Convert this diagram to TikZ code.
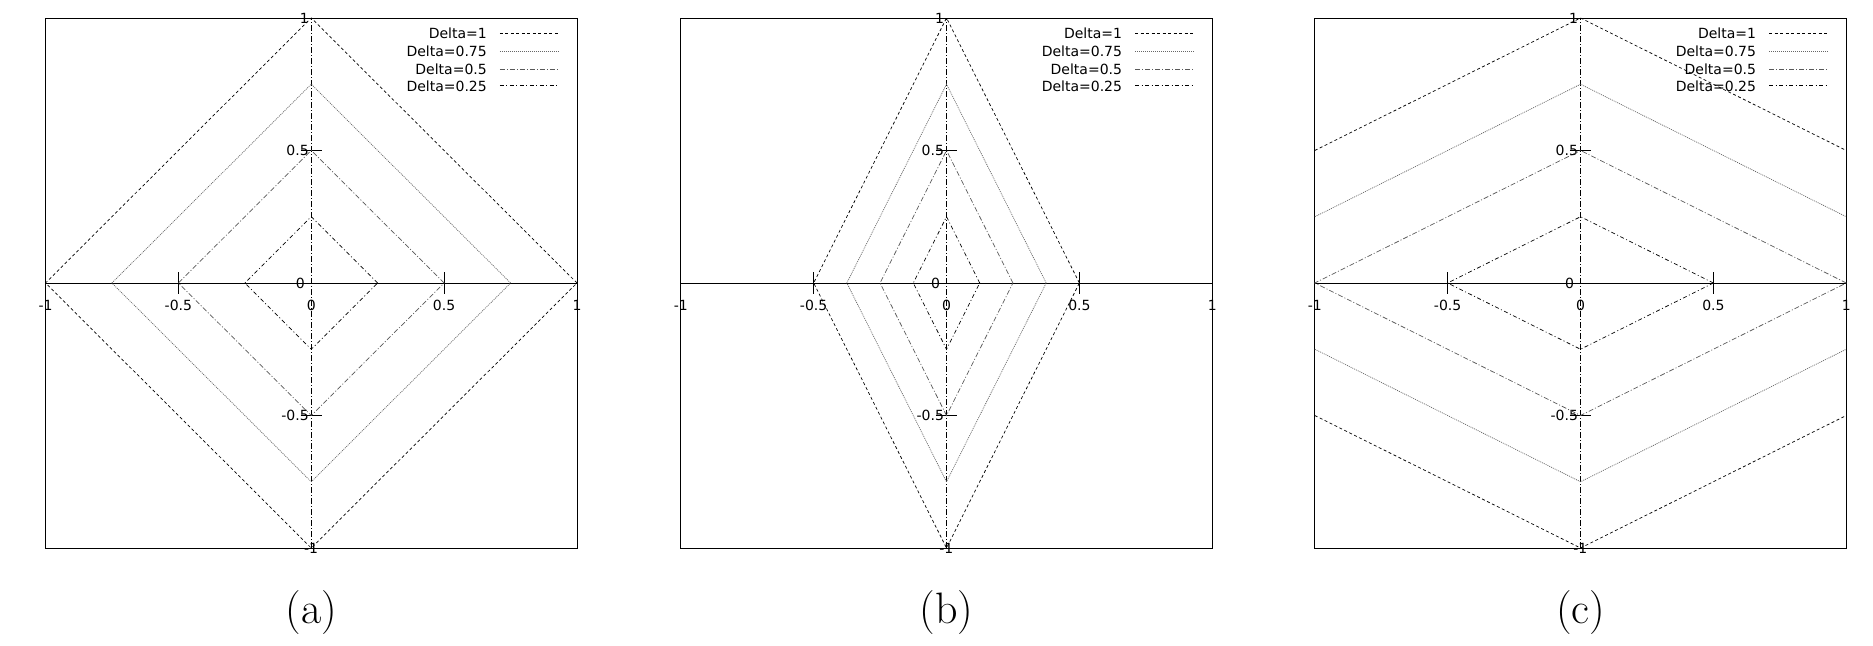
\documentclass[tikz,border=0pt]{standalone}
\usepackage{fontspec}
\newfontfamily\gp{DejaVu Sans}
\begin{document}
\begin{tikzpicture}[x=1pt,y=1pt,
  dA/.style={line width=0.7pt,dash pattern=on 3pt off 2.5pt},
  dB/.style={line width=0.7pt,gray!80!black,dash pattern=on 1pt off 1pt},
  dC/.style={line width=0.7pt,gray!70!black,dash pattern=on 5pt off 2pt on 1pt off 2pt},
  dD/.style={line width=0.7pt,dash pattern=on 4pt off 2.5pt on 1pt off 2.5pt},
  lab/.style={font=\gp\fontsize{14}{16}\selectfont,inner sep=1pt},
  captxt/.style={font=\fontsize{44}{50}\selectfont,inner sep=0pt}]
\useasboundingbox (0,0) rectangle (1873,645);
\fill[white] (0,0) rectangle (1873,645);
\newcommand\mypanel[3]{%
\begin{scope}[shift={(#1,362)},x=265.75pt,y=265pt]
  \draw[line width=0.8pt] (-1,-1) rectangle (1,1);
  \draw[line width=0.7pt] (-1,0) -- (1,0);
  \draw[line width=1pt,dash pattern=on 6pt off 2pt on 1pt off 2pt] (0,-1) -- (0,1);
  \foreach \t in {-0.5,0.5}{
    \draw[line width=0.7pt] (\t,-0.04) -- (\t,0.04);
    \draw[line width=0.7pt] (-0.04,\t) -- (0.04,\t);}
  \node[lab,anchor=east] (#3ya) at (-0.005,1) {1};
  \node[lab,anchor=east] (#3yb) at (-0.005,0.5) {0.5};
  \node[lab,anchor=south east] (#3yc) at (-0.02,-0.025) {0};
  \node[lab,anchor=east] (#3yd) at (-0.005,-0.5) {-0.5};
  \node[lab,anchor=east] (#3ye) at (0.03,-1) {-1};
  \node[lab] (#3xa) at (-1,-0.085) {-1};
  \node[lab] (#3xb) at (-0.5,-0.085) {-0.5};
  \node[lab] (#3xc) at (0,-0.085) {0};
  \node[lab] (#3xd) at (0.5,-0.085) {0.5};
  \node[lab] (#3xe) at (1,-0.085) {1};
  \node[lab,anchor=east] (#3la) at (0.665,0.942) {Delta=1};
  \node[lab,anchor=east] (#3lb) at (0.665,0.874) {Delta=0.75};
  \node[lab,anchor=east] (#3lc) at (0.665,0.807) {Delta=0.5};
  \node[lab,anchor=east] (#3ld) at (0.665,0.744) {Delta=0.25};
  \draw[dA] (0.71,0.942) -- (0.93,0.942);
  \draw[dB] (0.71,0.874) -- (0.93,0.874);
  \draw[dC] (0.71,0.807) -- (0.93,0.807);
  \draw[dD] (0.71,0.744) -- (0.93,0.744);
  #2
  \node[captxt] (#3cap) at (0,-1.245) {(#3)};
\end{scope}}
\mypanel{311.25}{%
  \draw[dA] (1,0)--(0,1)--(-1,0)--(0,-1)--cycle;
  \draw[dB] (0.75,0)--(0,0.75)--(-0.75,0)--(0,-0.75)--cycle;
  \draw[dC] (0.5,0)--(0,0.5)--(-0.5,0)--(0,-0.5)--cycle;
  \draw[dD] (0.25,0)--(0,0.25)--(-0.25,0)--(0,-0.25)--cycle;}{a}
\mypanel{946.5}{%
  \draw[dA] (0.5,0)--(0,1)--(-0.5,0)--(0,-1)--cycle;
  \draw[dB] (0.375,0)--(0,0.75)--(-0.375,0)--(0,-0.75)--cycle;
  \draw[dC] (0.25,0)--(0,0.5)--(-0.25,0)--(0,-0.5)--cycle;
  \draw[dD] (0.125,0)--(0,0.25)--(-0.125,0)--(0,-0.25)--cycle;}{b}
\mypanel{1580.5}{%
  \draw[dA] (-1,0.5)--(0,1)--(1,0.5);
  \draw[dA] (-1,-0.5)--(0,-1)--(1,-0.5);
  \draw[dB] (-1,0.25)--(0,0.75)--(1,0.25);
  \draw[dB] (-1,-0.25)--(0,-0.75)--(1,-0.25);
  \draw[dC] (1,0)--(0,0.5)--(-1,0)--(0,-0.5)--cycle;
  \draw[dD] (0.5,0)--(0,0.25)--(-0.5,0)--(0,-0.25)--cycle;}{c}
\end{tikzpicture}
\end{document}
